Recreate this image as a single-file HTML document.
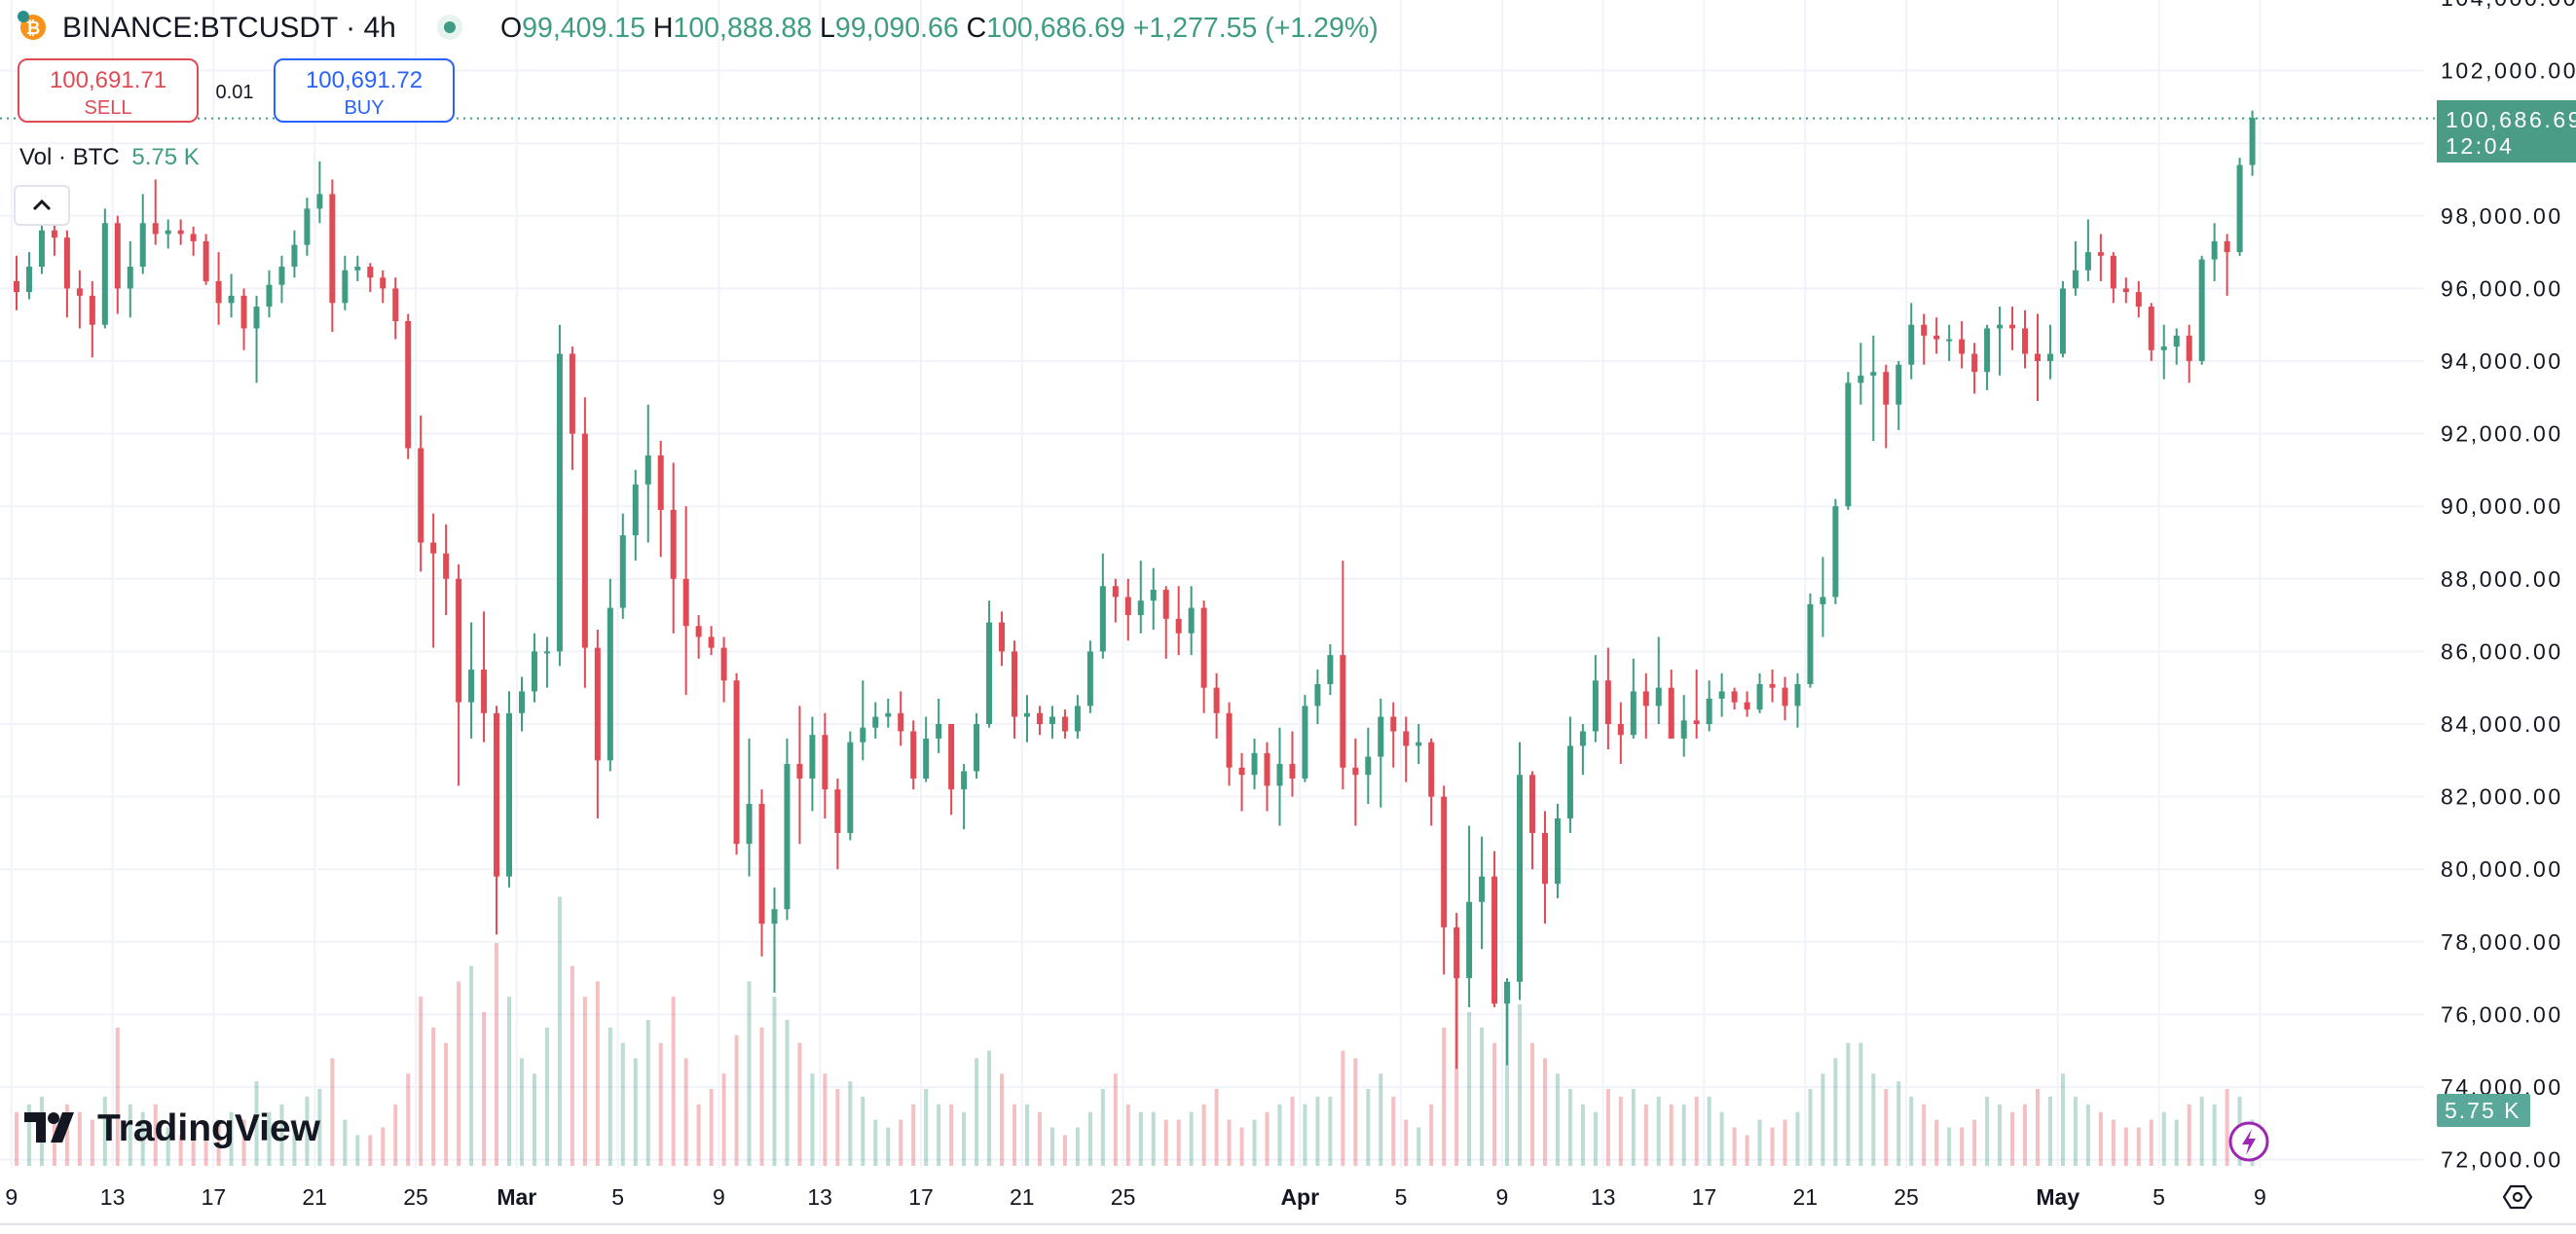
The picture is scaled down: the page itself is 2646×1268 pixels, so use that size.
<!DOCTYPE html>
<html><head><meta charset="utf-8">
<style>
html,body{margin:0;padding:0;background:#fff;}
body{width:2646px;height:1268px;overflow:hidden;position:relative;font-family:"Liberation Sans",sans-serif;}
svg{position:absolute;left:0;top:0;}
.ax{font-family:"Liberation Sans",sans-serif;font-size:23px;fill:#131722;letter-spacing:2.6px;}
.dt{font-family:"Liberation Sans",sans-serif;font-size:23px;fill:#131722;text-anchor:middle;}
</style></head>
<body>
<svg id="chart" width="2646" height="1268" viewBox="0 0 2646 1268">
  <g id="grid"></g>
  <g id="vol"></g>
  <g id="candles"></g>
  <line x1="0" y1="121.6" x2="2503" y2="121.6" stroke="#3f9c84" stroke-width="2" stroke-dasharray="2,5"/>
  <g id="yaxis"></g>
  <g id="xaxis"></g>
  <line x1="0" y1="1258" x2="2646" y2="1258" stroke="#e0e3eb" stroke-width="2"/>

  <rect x="2503" y="103" width="143" height="64" fill="#4b9c86"/>
  <text x="2512" y="131" fill="#fff" font-size="23" letter-spacing="2.6" font-family="Liberation Sans">100,686.69</text>
  <text x="2512" y="158" fill="#fff" font-size="23" letter-spacing="2.6" font-family="Liberation Sans">12:04</text>

  <rect x="2503" y="1124" width="96" height="34" rx="2" fill="#5aa89a"/>
  <text x="2511" y="1149" fill="#fff" font-size="23" letter-spacing="2" font-family="Liberation Sans">5.75 K</text>

  <g>
    <polygon points="2572,1230 2579,1219 2593,1219 2600,1230 2593,1241 2579,1241" fill="none" stroke="#131722" stroke-width="2.2"/>
    <circle cx="2586" cy="1230" r="4" fill="none" stroke="#131722" stroke-width="2.2"/>
  </g>

  <g>
    <circle cx="2310" cy="1173" r="19" fill="#fff" stroke="#9c27b0" stroke-width="3"/>
    <path d="M2313,1160 L2303,1176 L2310,1176 L2307,1187 L2317,1170 L2310,1170 Z" fill="#9c27b0"/>
  </g>

  <!-- header -->
  <circle cx="34" cy="28" r="13" fill="#f7931a"/>
  <text x="34" y="35" fill="#fff" font-size="18" font-weight="bold" text-anchor="middle" font-family="Liberation Sans">₿</text>
  <circle cx="24" cy="17" r="6" fill="#2a8f8a"/>
  <text x="64" y="38" fill="#131722" font-size="30" font-family="Liberation Sans">BINANCE:BTCUSDT · 4h</text>
  <circle cx="462" cy="28" r="13" fill="#e6f3ef"/>
  <circle cx="462" cy="28" r="6" fill="#3f9c84"/>
  <text x="514" y="38" font-size="28.5" font-family="Liberation Sans"><tspan fill="#131722">O</tspan><tspan fill="#3f9c84">99,409.15 </tspan><tspan fill="#131722">H</tspan><tspan fill="#3f9c84">100,888.88 </tspan><tspan fill="#131722">L</tspan><tspan fill="#3f9c84">99,090.66 </tspan><tspan fill="#131722">C</tspan><tspan fill="#3f9c84">100,686.69 +1,277.55 (+1.29%)</tspan></text>

  <g>
    <rect x="19" y="61" width="184" height="64" rx="9" fill="#fff" stroke="#e04a54" stroke-width="2"/>
    <text x="111" y="90" fill="#e04a54" font-size="24" text-anchor="middle" font-family="Liberation Sans">100,691.71</text>
    <text x="111" y="117" fill="#e04a54" font-size="20" text-anchor="middle" font-family="Liberation Sans">SELL</text>
  </g>
  <text x="241" y="101" fill="#131722" font-size="20" text-anchor="middle" font-family="Liberation Sans">0.01</text>
  <g>
    <rect x="282" y="61" width="184" height="64" rx="9" fill="#fff" stroke="#2962ff" stroke-width="2"/>
    <text x="374" y="90" fill="#2962ff" font-size="24" text-anchor="middle" font-family="Liberation Sans">100,691.72</text>
    <text x="374" y="117" fill="#2962ff" font-size="20" text-anchor="middle" font-family="Liberation Sans">BUY</text>
  </g>

  <text x="20" y="169" font-size="24" font-family="Liberation Sans"><tspan fill="#131722">Vol · BTC </tspan><tspan fill="#3f9c84" dx="6">5.75 K</tspan></text>
  <g>
    <rect x="15" y="191" width="56" height="40" rx="5" fill="#fff" stroke="#e0e3eb" stroke-width="2"/>
    <polyline points="35,215 43,207 51,215" fill="none" stroke="#131722" stroke-width="3"/>
  </g>

  <g>
    <path d="M25,1143 h22 v31 h-10 v-21 h-12 Z" fill="#131722"/>
    <circle cx="55" cy="1149" r="6" fill="#131722"/>
    <path d="M64,1143 h12 l-12,31 h-12 Z" fill="#131722"/>
    <text x="100" y="1172" fill="#131722" font-size="39" font-weight="bold" font-family="Liberation Sans">TradingView</text>
  </g>
</svg>
<script>
// ---- data (prices in thousands USD, one candle per half-day starting Feb 9) ----
const highs = [96.9,97.0,98.3,98.4,97.6,96.5,96.2,98.2,98.0,97.3,98.6,99.0,97.9,97.9,97.7,97.5,97.0,96.4,96.0,95.8,96.5,96.9,97.6,98.5,99.5,99.0,96.9,96.9,96.7,96.5,96.3,95.3,
92.5,89.8,89.5,88.4,86.8,87.1,84.5,84.9,85.3,86.5,86.4,95.0,94.4,93.0,86.6,88.0,
89.8,91.0,92.8,91.8,91.2,90.0,87.0,86.7,86.4,85.4,83.6,82.2,79.5,83.6,84.5,84.2,
84.3,82.5,83.8,85.2,84.6,84.7,84.9,84.1,84.2,84.7,84.0,82.9,84.3,87.4,87.1,86.3,84.8,84.5,
84.5,84.4,84.8,86.3,88.7,88.0,88.0,88.5,88.3,87.8,87.8,87.8,87.4,85.4,84.6,83.2,83.6,83.5,83.9,83.8,
84.8,85.5,86.2,88.5,83.6,83.9,84.7,84.6,84.2,84.0,83.6,82.3,
78.8,81.2,80.9,80.5,77.0,83.5,82.7,81.6,81.8,84.2,
84.0,85.9,86.1,84.6,85.8,85.4,86.4,85.5,84.8,85.5,85.2,85.4,85.0,84.9,85.4,85.5,85.3,85.4,
87.6,88.6,90.2,93.7,94.5,94.7,93.9,94.0,95.6,95.3,95.2,95.0,95.1,94.5,95.0,95.5,95.5,95.4,95.3,95.0,
96.2,97.3,97.9,97.5,97.0,96.3,96.2,95.6,95.0,94.9,95.0,96.9,97.8,97.5,99.6,100.9];
const lows = [95.4,95.7,96.4,96.9,95.2,94.9,94.1,94.9,95.3,95.2,96.4,97.2,97.1,97.2,96.9,96.1,95.0,95.2,94.3,93.4,95.2,95.6,96.3,96.9,97.8,94.8,95.4,96.2,95.9,95.6,94.6,91.3,
88.2,86.1,87.0,82.3,83.6,83.5,78.2,79.5,83.8,84.6,85.0,85.6,91.0,85.0,81.4,82.7,
86.9,88.5,89.0,88.6,86.5,84.8,85.8,85.9,84.6,80.4,79.8,77.6,76.6,78.6,80.7,81.6,
81.4,80.0,80.8,83.0,83.6,83.9,83.4,82.2,82.4,83.2,81.5,81.1,82.5,83.9,85.6,83.6,83.5,83.7,
83.6,83.6,83.6,84.3,85.8,86.8,86.3,86.5,86.6,85.8,85.9,85.9,84.3,83.6,82.3,81.6,82.2,81.6,81.2,82.0,
82.4,84.0,84.8,82.2,81.2,81.8,81.7,82.8,82.4,82.9,81.2,77.1,
74.5,76.2,77.8,76.2,74.6,76.4,80.0,78.5,79.2,81.0,
82.6,83.5,83.3,82.9,83.6,83.6,84.0,83.6,83.1,83.6,83.8,84.2,84.4,84.2,84.3,84.6,84.1,83.9,
85.0,86.4,87.3,89.9,92.8,91.8,91.6,92.1,93.5,93.9,94.2,94.0,93.8,93.1,93.2,93.6,94.3,93.8,92.9,93.5,
94.1,95.8,96.2,96.2,95.6,95.6,95.2,94.0,93.5,93.9,93.4,93.9,96.2,95.8,96.9,99.1];
const closes = [95.9,96.6,97.6,97.4,96.0,95.8,95.0,97.8,96.0,96.6,97.8,97.5,97.6,97.5,97.3,96.2,95.6,95.8,94.9,95.5,96.1,96.6,97.2,98.2,98.6,95.6,96.5,96.6,96.3,96.0,95.1,91.6,
89.0,88.7,88.0,84.6,85.5,84.3,79.8,84.3,84.9,86.0,86.0,94.2,92.0,86.1,83.0,87.2,
89.2,90.6,91.4,89.9,88.0,86.7,86.4,86.1,85.2,80.7,81.8,78.5,78.9,82.9,82.5,83.7,
82.2,81.0,83.5,83.9,84.2,84.3,83.8,82.5,83.6,84.0,82.2,82.7,84.0,86.8,86.0,84.2,84.3,84.0,
84.2,83.8,84.5,86.0,87.8,87.5,87.0,87.4,87.7,86.9,86.5,87.2,85.0,84.3,82.8,82.6,83.2,82.3,82.9,82.5,
84.5,85.1,85.9,82.8,82.6,83.1,84.2,83.8,83.4,83.5,82.0,78.4,
77.0,79.1,79.8,76.3,76.9,82.6,81.0,79.6,81.4,83.4,
83.8,85.2,84.0,83.7,84.9,84.5,85.0,83.6,84.1,84.0,84.7,84.9,84.6,84.4,85.1,85.0,84.5,85.1,
87.3,87.5,90.0,93.4,93.6,93.7,92.8,93.9,95.0,94.7,94.6,94.6,94.2,93.7,94.9,95.0,94.9,94.2,94.0,94.2,
96.0,96.5,97.0,96.9,96.0,95.9,95.5,94.3,94.4,94.7,94.0,96.8,97.3,97.0,99.4,100.7];
const volumes = [7,8,9,6,8,7,6,9,18,8,7,8,5,4,4,5,6,7,6,11,7,8,6,9,10,14,6,4,4,5,8,12,
22,18,16,24,26,20,29,22,14,12,18,35,26,22,24,18,
16,14,19,16,22,14,8,10,12,17,24,18,22,19,16,12,
12,10,11,9,6,5,6,8,10,8,8,7,14,15,12,8,8,7,
5,4,5,7,10,12,8,7,7,6,6,7,8,10,6,5,6,7,8,9,
8,9,9,15,14,10,12,9,6,5,8,18,
25,20,18,16,22,21,16,14,12,10,
8,7,10,9,10,8,9,8,8,9,9,7,5,4,6,5,6,7,
10,12,14,16,16,12,10,11,9,8,6,5,5,6,9,8,7,8,10,9,
12,9,8,7,6,5,5,6,7,6,8,9,8,10,9,6];
const firstOpen = 96.2;
const priceTicks = [104,102,100,98,96,94,92,90,88,86,84,82,80,78,76,74,72];
const dateLabels = ['9','13','17','21','25','Mar','5','9','13','17','21','25','Apr','5','9','13','17','21','25','May','5','9'];
const dateDays = [0,4,8,12,16,20,24,28,32,36,40,44,51,55,59,63,67,71,75,81,85,89];

// ---- axis functions ----
const NS='http://www.w3.org/2000/svg';
const X0=11.8, DAYW=25.95, PLOT_R=2490;
function xDay(d){return X0+d*DAYW;}
function xIdx(i){return xDay(i/2+0.2);}
function yP(p){return 72.6+(102-p)*37.3;}
const VBASE=1198, VK=7.9;
function yV(v){return VBASE-v*VK;}
function mk(tag,attrs,parent){const e=document.createElementNS(NS,tag);for(const k in attrs)e.setAttribute(k,attrs[k]);parent.appendChild(e);return e;}

const grid=document.getElementById('grid');
const yaxis=document.getElementById('yaxis');
const xaxis=document.getElementById('xaxis');
priceTicks.forEach(p=>{
  const y=yP(p);
  const gl=mk('line',{x1:0,x2:PLOT_R,y1:y,y2:y,stroke:'#f0f3fa','stroke-width':2},grid);
  
  
  const t=mk('text',{x:2507,y:y+8,class:'ax'},yaxis);
  t.textContent=p.toLocaleString('en-US')+',000.00';
  
  
});
dateLabels.forEach((lab,k)=>{
  const x=xDay(dateDays[k]);
  const gl=mk('line',{x1:x,x2:x,y1:0,y2:1200,stroke:'#f0f3fa','stroke-width':2},grid);
  
  
  const t=mk('text',{x:x,y:1238,class:'dt'},xaxis);
  if(lab==='Mar'||lab==='Apr'||lab==='May')t.setAttribute('font-weight','bold');
  t.textContent=lab;
  
  
});

const UP='#3f9c84', DN='#e04a54';
const vg=document.getElementById('vol'), cg=document.getElementById('candles');
let prev=firstOpen;
closes.forEach((c,i)=>{
  const o=prev; prev=c;
  const up=c>=o, col=up?UP:DN, x=xIdx(i);
  const vb=mk('rect',{x:x-2,y:yV(volumes[i]),width:4,height:volumes[i]*VK,fill:col,opacity:0.35},vg);
  
  
  const w=mk('line',{x1:x,x2:x,y1:yP(highs[i]),y2:yP(lows[i]),stroke:col,'stroke-width':2},cg);
  
  
  const top=yP(Math.max(o,c)), h=Math.max(2,Math.abs(yP(o)-yP(c)));
  const b=mk('rect',{x:x-3,y:top,width:6,height:h,fill:col},cg);
  
  
});
</script>
</body></html>
